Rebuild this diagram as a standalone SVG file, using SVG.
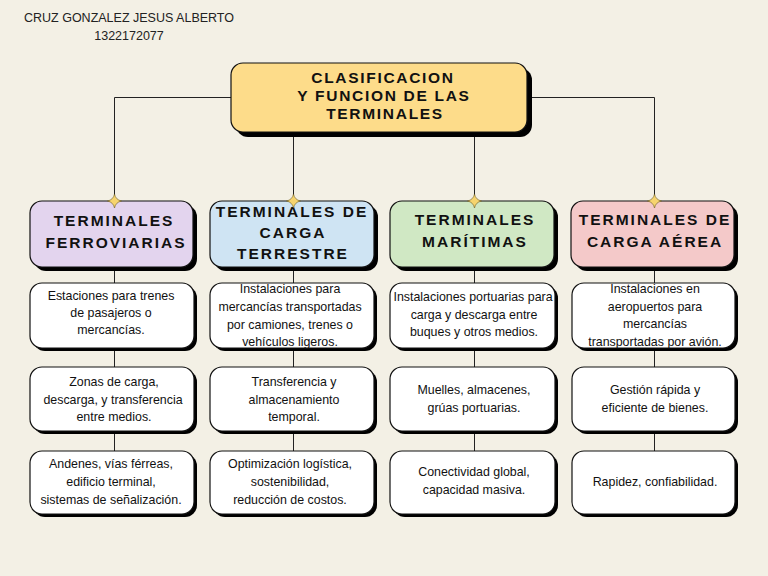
<svg xmlns="http://www.w3.org/2000/svg" width="768" height="576" viewBox="0 0 768 576">
<defs>
<style>
.bg{fill:#f3f0e5}
.sh{fill:#000}
.box{stroke:#111;stroke-width:1.2}
.w{fill:#fff}
.ln{stroke:#222;stroke-width:1;fill:none}
.hd{font-family:"Liberation Sans",Arial,sans-serif;font-size:12.5px;fill:#222;text-anchor:middle}
.ttl{font-family:"Liberation Sans",Arial,sans-serif;font-weight:bold;font-size:15.5px;letter-spacing:1.7px;fill:#111;text-anchor:middle}
.cat{font-family:"Liberation Sans",Arial,sans-serif;font-weight:bold;font-size:15.5px;letter-spacing:2px;fill:#111;text-anchor:middle}
.tx{font-family:"Liberation Sans",Arial,sans-serif;font-size:12.4px;fill:#111;text-anchor:middle}
.star{fill:#f6d46e;stroke:#6b5a20;stroke-width:0.6}
</style>
<path id="spark" class="star" d="M0,-7 Q1.2,-1.2 7,0 Q1.2,1.2 0,7 Q-1.2,1.2 -7,0 Q-1.2,-1.2 0,-7Z"/>
</defs>
<rect class="bg" x="0" y="0" width="768" height="576"/>

<g id="author">
<text class="hd" x="129" y="22">CRUZ GONZALEZ JESUS ALBERTO</text>
<text class="hd" x="129" y="40">1322172077</text>
</g>

<g id="connectors">
<path class="ln" d="M231,97.5 H114.5 V201"/>
<path class="ln" d="M527,97.5 H654.5 V201"/>
<path class="ln" d="M293.5,133 V201"/>
<path class="ln" d="M474.5,133 V201"/>
<path class="ln" d="M114.5,267 V283 M114.5,348 V367 M114.5,431 V451"/>
<path class="ln" d="M293.5,267 V283 M293.5,348 V367 M293.5,431 V451"/>
<path class="ln" d="M474.5,267 V283 M474.5,348 V367 M474.5,431 V451"/>
<path class="ln" d="M654.5,267 V283 M654.5,348 V367 M654.5,431 V451"/>
</g>

<g id="title">
<rect class="sh" x="236" y="68" width="296" height="69" rx="12"/>
<rect class="box" x="231" y="63" width="296" height="69" rx="12" fill="#fddc8a"/>
<text class="ttl" x="383" y="83">CLASIFICACION</text>
<text class="ttl" x="384" y="101">Y FUNCION DE LAS</text>
<text class="ttl" x="385" y="119">TERMINALES</text>
</g>

<g id="cat-ferroviarias">
<rect class="sh" x="34" y="205" width="163" height="66" rx="12"/>
<rect class="box" x="30" y="201" width="163" height="66" rx="12" fill="#e3d4ee"/>
<text class="cat" x="114" y="226">TERMINALES</text>
<text class="cat" x="116" y="248">FERROVIARIAS</text>
<use href="#spark" x="114.5" y="201"/>
</g>

<g id="cat-terrestre">
<rect class="sh" x="214" y="205" width="164" height="66" rx="12"/>
<rect class="box" x="210" y="201" width="164" height="66" rx="12" fill="#cfe4f3"/>
<text class="cat" x="292" y="217">TERMINALES DE</text>
<text class="cat" x="293" y="238">CARGA</text>
<text class="cat" x="293" y="259">TERRESTRE</text>
<use href="#spark" x="293.5" y="201"/>
</g>

<g id="cat-maritimas">
<rect class="sh" x="394" y="205" width="164" height="66" rx="12"/>
<rect class="box" x="390" y="201" width="164" height="66" rx="12" fill="#d0e8c4"/>
<text class="cat" x="475" y="225">TERMINALES</text>
<text class="cat" x="475" y="247">MARÍTIMAS</text>
<use href="#spark" x="474.5" y="201"/>
</g>

<g id="cat-aerea">
<rect class="sh" x="575" y="205" width="163" height="66" rx="12"/>
<rect class="box" x="571" y="201" width="163" height="66" rx="12" fill="#f4c9c9"/>
<text class="cat" x="655" y="225">TERMINALES DE</text>
<text class="cat" x="655" y="247">CARGA AÉREA</text>
<use href="#spark" x="654.5" y="201"/>
</g>

<g id="f1">
<rect class="sh" x="33" y="286" width="164" height="65" rx="12"/>
<rect class="box w" x="30" y="283" width="164" height="65" rx="12"/>
<text class="tx" x="111" y="300">Estaciones para trenes</text>
<text class="tx" x="111" y="317">de pasajeros o</text>
<text class="tx" x="111" y="334">mercancías.</text>
</g>
<g id="f2">
<rect class="sh" x="33" y="370" width="164" height="64" rx="12"/>
<rect class="box w" x="30" y="367" width="164" height="64" rx="12"/>
<text class="tx" x="114" y="386">Zonas de carga,</text>
<text class="tx" x="113" y="404">descarga, y transferencia</text>
<text class="tx" x="114" y="421">entre medios.</text>
</g>
<g id="f3">
<rect class="sh" x="33" y="454" width="164" height="63" rx="12"/>
<rect class="box w" x="30" y="451" width="164" height="63" rx="12"/>
<text class="tx" x="111" y="468">Andenes, vías férreas,</text>
<text class="tx" x="111" y="486">edificio terminal,</text>
<text class="tx" x="111" y="504">sistemas de señalización.</text>
</g>

<g id="t1">
<rect class="sh" x="213" y="286" width="164" height="65" rx="12"/>
<rect class="box w" x="210" y="283" width="164" height="65" rx="12"/>
<text class="tx" x="290" y="293">Instalaciones para</text>
<text class="tx" x="290" y="311">mercancías transportadas</text>
<text class="tx" x="290" y="329">por camiones, trenes o</text>
<text class="tx" x="290" y="346">vehículos ligeros.</text>
</g>
<g id="t2">
<rect class="sh" x="213" y="370" width="164" height="64" rx="12"/>
<rect class="box w" x="210" y="367" width="164" height="64" rx="12"/>
<text class="tx" x="294" y="386">Transferencia y</text>
<text class="tx" x="294" y="404">almacenamiento</text>
<text class="tx" x="294" y="421">temporal.</text>
</g>
<g id="t3">
<rect class="sh" x="213" y="454" width="164" height="63" rx="12"/>
<rect class="box w" x="210" y="451" width="164" height="63" rx="12"/>
<text class="tx" x="290" y="468">Optimización logística,</text>
<text class="tx" x="290" y="486">sostenibilidad,</text>
<text class="tx" x="290" y="504">reducción de costos.</text>
</g>

<g id="m1">
<rect class="sh" x="393" y="286" width="165" height="65" rx="12"/>
<rect class="box w" x="390" y="283" width="165" height="65" rx="12"/>
<text class="tx" x="473" y="301">Instalaciones portuarias para</text>
<text class="tx" x="474" y="319">carga y descarga entre</text>
<text class="tx" x="474" y="336">buques y otros medios.</text>
</g>
<g id="m2">
<rect class="sh" x="393" y="370" width="165" height="64" rx="12"/>
<rect class="box w" x="390" y="367" width="165" height="64" rx="12"/>
<text class="tx" x="474" y="394">Muelles, almacenes,</text>
<text class="tx" x="474" y="412">grúas portuarias.</text>
</g>
<g id="m3">
<rect class="sh" x="393" y="454" width="165" height="63" rx="12"/>
<rect class="box w" x="390" y="451" width="165" height="63" rx="12"/>
<text class="tx" x="474" y="476">Conectividad global,</text>
<text class="tx" x="474" y="494">capacidad masiva.</text>
</g>

<g id="a1">
<rect class="sh" x="575" y="286" width="163" height="65" rx="12"/>
<rect class="box w" x="572" y="283" width="163" height="65" rx="12"/>
<text class="tx" x="655" y="293">Instalaciones en</text>
<text class="tx" x="655" y="311">aeropuertos para</text>
<text class="tx" x="655" y="328">mercancías</text>
<text class="tx" x="655" y="346">transportadas por avión.</text>
</g>
<g id="a2">
<rect class="sh" x="575" y="370" width="163" height="64" rx="12"/>
<rect class="box w" x="572" y="367" width="163" height="64" rx="12"/>
<text class="tx" x="655" y="394">Gestión rápida y</text>
<text class="tx" x="655" y="412">eficiente de bienes.</text>
</g>
<g id="a3">
<rect class="sh" x="575" y="454" width="163" height="63" rx="12"/>
<rect class="box w" x="572" y="451" width="163" height="63" rx="12"/>
<text class="tx" x="655" y="486">Rapidez, confiabilidad.</text>
</g>
</svg>
